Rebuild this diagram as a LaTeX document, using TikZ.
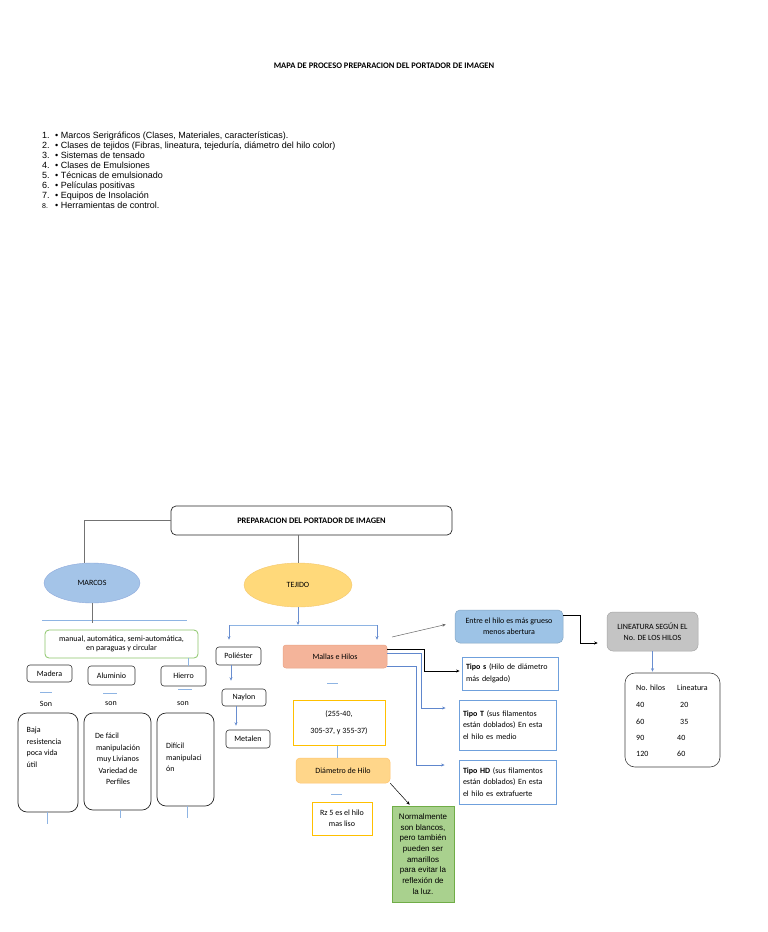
\documentclass[tikz,border=0pt]{standalone}
\usepackage{fontspec}
\setmainfont{Carlito}
\newfontfamily\arialf{Liberation Sans}
\usetikzlibrary{arrows.meta,shapes.geometric}
\definecolor{lblue}{HTML}{8EB4E3}
\definecolor{ablue}{HTML}{4472C4}
\definecolor{ellblue}{HTML}{A4C4E8}
\definecolor{ellblued}{HTML}{8FAADC}
\definecolor{ellorange}{HTML}{FFD97A}
\definecolor{ellorangeb}{HTML}{F4C870}
\definecolor{salmon}{HTML}{F4B49A}
\definecolor{salmond}{HTML}{E9A386}
\definecolor{gold}{HTML}{FFC000}
\definecolor{diamfill}{HTML}{FFD68A}
\definecolor{gfill}{HTML}{A9D18E}
\definecolor{gdraw}{HTML}{70AD47}
\definecolor{mgreen}{HTML}{8CC66A}
\definecolor{entrefill}{HTML}{9DC3E6}
\definecolor{grayfill}{HTML}{C4C4C4}
\definecolor{tbl}{HTML}{6FA0DC}
\newcommand\sz[2]{\fontsize{#1}{#2}\selectfont}
\begin{document}
\begin{tikzpicture}[x=1pt,y=-1pt,
  rb/.style={draw=black!80, rounded corners=3pt, line width=0.6pt, align=center, inner sep=1pt, font=\sz{8}{9.5}},
  tb/.style={draw=tbl, line width=0.8pt, align=left, inner xsep=4pt, inner ysep=1pt, font=\sz{8}{11.5}},
  tall/.style={draw=black!85, rounded corners=9pt, line width=0.7pt, inner sep=0pt},
  txt/.style={inner sep=0pt, font=\sz{8}{11.5}},
  lst/.style={inner sep=0pt, font=\arialf\sz{9}{10}},
  gline/.style={draw=black!55, line width=0.5pt},
  bline/.style={draw=lblue, line width=0.7pt},
  barrow/.style={draw=ablue!80, line width=0.5pt, -{Stealth[length=3.5pt,width=3pt]}},
  blarrow/.style={draw=ablue!85, line width=0.9pt, -{Stealth[length=3.5pt,width=3pt]}},
  karrow/.style={draw=black, line width=0.6pt, -{Stealth[length=3.5pt,width=3pt]}},
  garrow/.style={draw=black!60, line width=0.5pt, -{Stealth[length=3.5pt,width=3pt]}},
]
\useasboundingbox (0,0) rectangle (768,932);
\fill[white] (0,0) rectangle (768,932);

% title
\node[inner sep=0pt, font=\bfseries\sz{8.5}{9}] (title) at (384,66) {MAPA DE PROCESO PREPARACION DEL PORTADOR DE IMAGEN};

% list
\node[lst, anchor=base west] (n1) at (42,138.0) {1.};
\node[lst, anchor=base west] (i1) at (55,138.0) {• Marcos Serigráficos (Clases, Materiales, características).};
\node[lst, anchor=base west] (n2) at (42,148.1) {2.};
\node[lst, anchor=base west] (i2) at (55,148.1) {• Clases de tejidos (Fibras, lineatura, tejeduría, diámetro del hilo color)};
\node[lst, anchor=base west] (n3) at (42,158.2) {3.};
\node[lst, anchor=base west] (i3) at (55,158.2) {• Sistemas de tensado};
\node[lst, anchor=base west] (n4) at (42,168.3) {4.};
\node[lst, anchor=base west] (i4) at (55,168.3) {• Clases de Emulsiones};
\node[lst, anchor=base west] (n5) at (42,178.4) {5.};
\node[lst, anchor=base west] (i5) at (55,178.4) {• Técnicas de emulsionado};
\node[lst, anchor=base west] (n6) at (42,188.5) {6.};
\node[lst, anchor=base west] (i6) at (55,188.5) {• Películas positivas};
\node[lst, anchor=base west] (n7) at (42,198.6) {7.};
\node[lst, anchor=base west] (i7) at (55,198.6) {• Equipos de Insolación};
\node[lst, anchor=base west, font=\arialf\sz{7}{10}] (n8) at (42,208.7) {8.};
\node[lst, anchor=base west] (i8) at (55,208.7) {• Herramientas de control.};

% main box
\node[draw=black!85, rounded corners=5pt, line width=0.7pt, minimum width=281, minimum height=29, font=\bfseries\sz{8.4}{9}] (main) at (311.5,520.5) {PREPARACION DEL PORTADOR DE IMAGEN};

% ellipses
\node[ellipse, draw=ellblued, fill=ellblue, minimum width=96, minimum height=40, inner sep=0pt, font=\sz{8}{9}] (marcos) at (92,583) {MARCOS};
\node[ellipse, draw=ellorangeb, fill=ellorange, minimum width=108, minimum height=44, inner sep=0pt, font=\sz{8}{9}] (tejido) at (298,585) {TEJIDO};

\draw[gline] (main.west) -| ([xshift=-8pt]marcos.north);
\draw[gline] (tejido.north |- main.south) -- (tejido.north);

% MARCOS branch
\coordinate (mh1) at (42,620);
\coordinate (mh2) at (187,620);
\coordinate (mv) at (92,623);
\draw[bline] (mh1) -- (mh2);
\draw[gline] (marcos.south) -- (mv);
\node[rb, draw=mgreen, rounded corners=4pt, line width=0.8pt, minimum width=153, minimum height=28, font=\sz{8}{9.5}] (manual) at (121.5,644) {manual, automática, semi-automática,\\en paraguas y circular};
\node[rb, minimum width=45, minimum height=17] (madera) at (49.5,673.5) {Madera};
\node[rb, minimum width=47, minimum height=19] (alum) at (111.5,675.5) {Aluminio};
\node[rb, minimum width=45, minimum height=20] (hierro) at (183.5,676) {Hierro};
\draw[bline, line width=0.5pt] ([xshift=4.5pt]hierro.north |- manual.south) -- ([xshift=4.5pt]hierro.north);

\coordinate (d1a) at (40,692); \coordinate (d1b) at (52,692);
\coordinate (d2a) at (103,693); \coordinate (d2b) at (117,693);
\coordinate (d3a) at (178,689); \coordinate (d3b) at (192,689);
\draw[bline] (d1a) -- (d1b);
\draw[bline] (d2a) -- (d2b);
\draw[bline] (d3a) -- (d3b);
\node[txt] (son1) at (46,704) {Son};
\node[txt] (son2) at (111,704) {son};
\node[txt] (son3) at (183,704) {son};

\node[tall, minimum width=60, minimum height=99] (baja) at (48,762.5) {};
\node[tall, minimum width=67, minimum height=97] (facil) at (117.5,761.5) {};
\node[tall, minimum width=57, minimum height=93] (dificil) at (185.5,759.5) {};
\node[txt, anchor=north west, align=left] (bajat) at (26.5,727) {Baja\\resistencia\\poca vida\\útil};
\node[txt, anchor=north, align=center] (facilt) at (118,733) {\hspace*{-22pt}De fácil\\manipulación\\muy Livianos\\Variedad de\\Perfiles};
\node[txt, anchor=north west, align=left] (dificilt) at (166,743) {Difícil\\manipulaci\\ón};
\coordinate (b1) at (47,824); \coordinate (b2) at (120,818); \coordinate (b3) at (187,818);
\draw[bline, line width=0.5pt] ([xshift=-1pt]baja.south) -- (b1);
\draw[bline, line width=0.5pt] ([xshift=2.5pt]facil.south) -- (b2);
\draw[bline, line width=0.5pt] ([xshift=1.5pt]dificil.south) -- (b3);

% TEJIDO branch
\coordinate (tj) at (298,625);
\coordinate (tjl) at (229,625);
\coordinate (tjr) at (377,625);
\draw[barrow] (tejido.south) -- (tj);
\draw[bline] (tjl) -- (tjr);
\node[rb, minimum width=45, minimum height=18] (poli) at (238.5,656) {Poliéster};
\node[rb, minimum width=44, minimum height=17] (nay) at (244,697.5) {Naylon};
\node[rb, minimum width=44, minimum height=18] (metal) at (248,739) {Metalen};
\node[rb, draw=salmond, fill=salmon, minimum width=104, minimum height=23, line width=0.5pt] (mallas) at (335,656.5) {Mallas e Hilos};
\draw[barrow, shorten >=7pt] (tjl) -- (tjl |- poli.north);
\draw[barrow, shorten >=5pt] (tjr) -- (tjr |- mallas.north);
\draw[barrow, shorten >=8pt] ([xshift=-7.5pt]poli.south) -- ([xshift=-13pt]nay.north);
\draw[barrow, shorten >=4pt] ([xshift=-8pt]nay.south) -- ([xshift=-12pt]metal.north);

\coordinate (md1) at (327,683); \coordinate (md2) at (338,683);
\draw[bline, line width=0.5pt] (md1) -- (md2);
\node[draw=gold, line width=1pt, minimum width=92, minimum height=45, align=center, inner sep=1pt, font=\sz{8}{17}] (yel) at (339,722.5) {(255-40,\\305-37, y 355-37)};
\node[rb, draw=diamfill!80!orange, fill=diamfill, rounded corners=4pt, line width=0.5pt, minimum width=94, minimum height=25] (diam) at (343,770.5) {Diámetro de Hilo};
\draw[bline, line width=0.6pt] ([xshift=-2pt]yel.south) -- ([xshift=-6pt]diam.north);
\coordinate (dd1) at (331,794); \coordinate (dd2) at (342,794);
\draw[bline, line width=0.5pt] (dd1) -- (dd2);
\node[draw=gold, line width=1pt, minimum width=60, minimum height=33, align=center, inner sep=1pt, font=\sz{8}{11}] (rz) at (342,818.5) {Rz 5 es el hilo\\mas liso};
\node[draw=gdraw, fill=gfill, line width=0.6pt, minimum width=62, minimum height=96, align=center, inner sep=0pt, font=\arialf\sz{8}{10.7}] (green) at (423,854) {Normalmente\\son blancos,\\pero también\\pueden ser\\amarillos\\para evitar la\\reflexión de\\la luz.};
\draw[karrow, line width=0.5pt] (diam.south east) -- ([xshift=18pt,yshift=1pt]green.north west);

% right side
\node[rb, draw=entrefill!85!black, fill=entrefill, rounded corners=5pt, line width=0.5pt, minimum width=108, minimum height=33, font=\sz{8}{11}] (entre) at (509,626.5) {Entre el hilo es más grueso\\menos abertura};
\coordinate (m1) at (392,637);
\draw[garrow] (m1) -- ([xshift=-9pt,yshift=2pt]entre.west);

\node[tb, text width=88, minimum height=33] (tipos) at (510,673.5) {\textbf{Tipo s} (Hilo de diámetro\\más delgado)};
\node[tb, text width=89, minimum height=50] (tipot) at (507.5,725) {\textbf{Tipo T} (sus filamentos\\están doblados) En esta\\el hilo es medio};
\node[tb, text width=89, minimum height=44] (tipohd) at (507.5,782) {\textbf{Tipo HD} (sus filamentos\\están doblados) En esta\\el hilo es extrafuerte};

\draw[karrow, shorten >=2pt] ([yshift=7.5pt]mallas.east) -- ++(37,0) |- ([yshift=2.5pt]tipos.west);
\draw[blarrow, shorten >=13pt] ([yshift=3.5pt]mallas.east) -- ++(34,0) |- ([yshift=17pt]tipot.west);
\draw[blarrow, shorten >=14pt] ([yshift=-9.5pt]mallas.east) -- ++(29,0) |- ([yshift=17pt]tipohd.west);

\node[rb, draw=grayfill!85!black, fill=grayfill, rounded corners=6pt, line width=0.5pt, minimum width=91, minimum height=39, font=\sz{8}{11}] (lineat) at (652.5,631.5) {LINEATURA SEGÚN EL\\No. DE LOS HILOS};
\draw[karrow, shorten >=9pt] ([yshift=11.5pt]entre.east) -- ++(17,0) |- ([yshift=-11.5pt]lineat.west);

\node[draw=black!75, rounded corners=10pt, line width=0.6pt, minimum width=95, minimum height=94] (table) at (672.5,720) {};
\draw[barrow, shorten >=1pt] (lineat.south) -- (lineat.south |- table.north);
\node[txt, anchor=west] (h1) at (636,688) {No. hilos};
\node[txt, anchor=west] (h2) at (677,688) {Lineatura};
\node[txt, anchor=west] (r1a) at (636,705) {40};
\node[txt, anchor=west] (r1b) at (680,705) {20};
\node[txt, anchor=west] (r2a) at (636,722) {60};
\node[txt, anchor=west] (r2b) at (680,722) {35};
\node[txt, anchor=west] (r3a) at (636,738) {90};
\node[txt, anchor=west] (r3b) at (677,738) {40};
\node[txt, anchor=west] (r4a) at (636,754) {120};
\node[txt, anchor=west] (r4b) at (677,754) {60};
\end{tikzpicture}
\end{document}
